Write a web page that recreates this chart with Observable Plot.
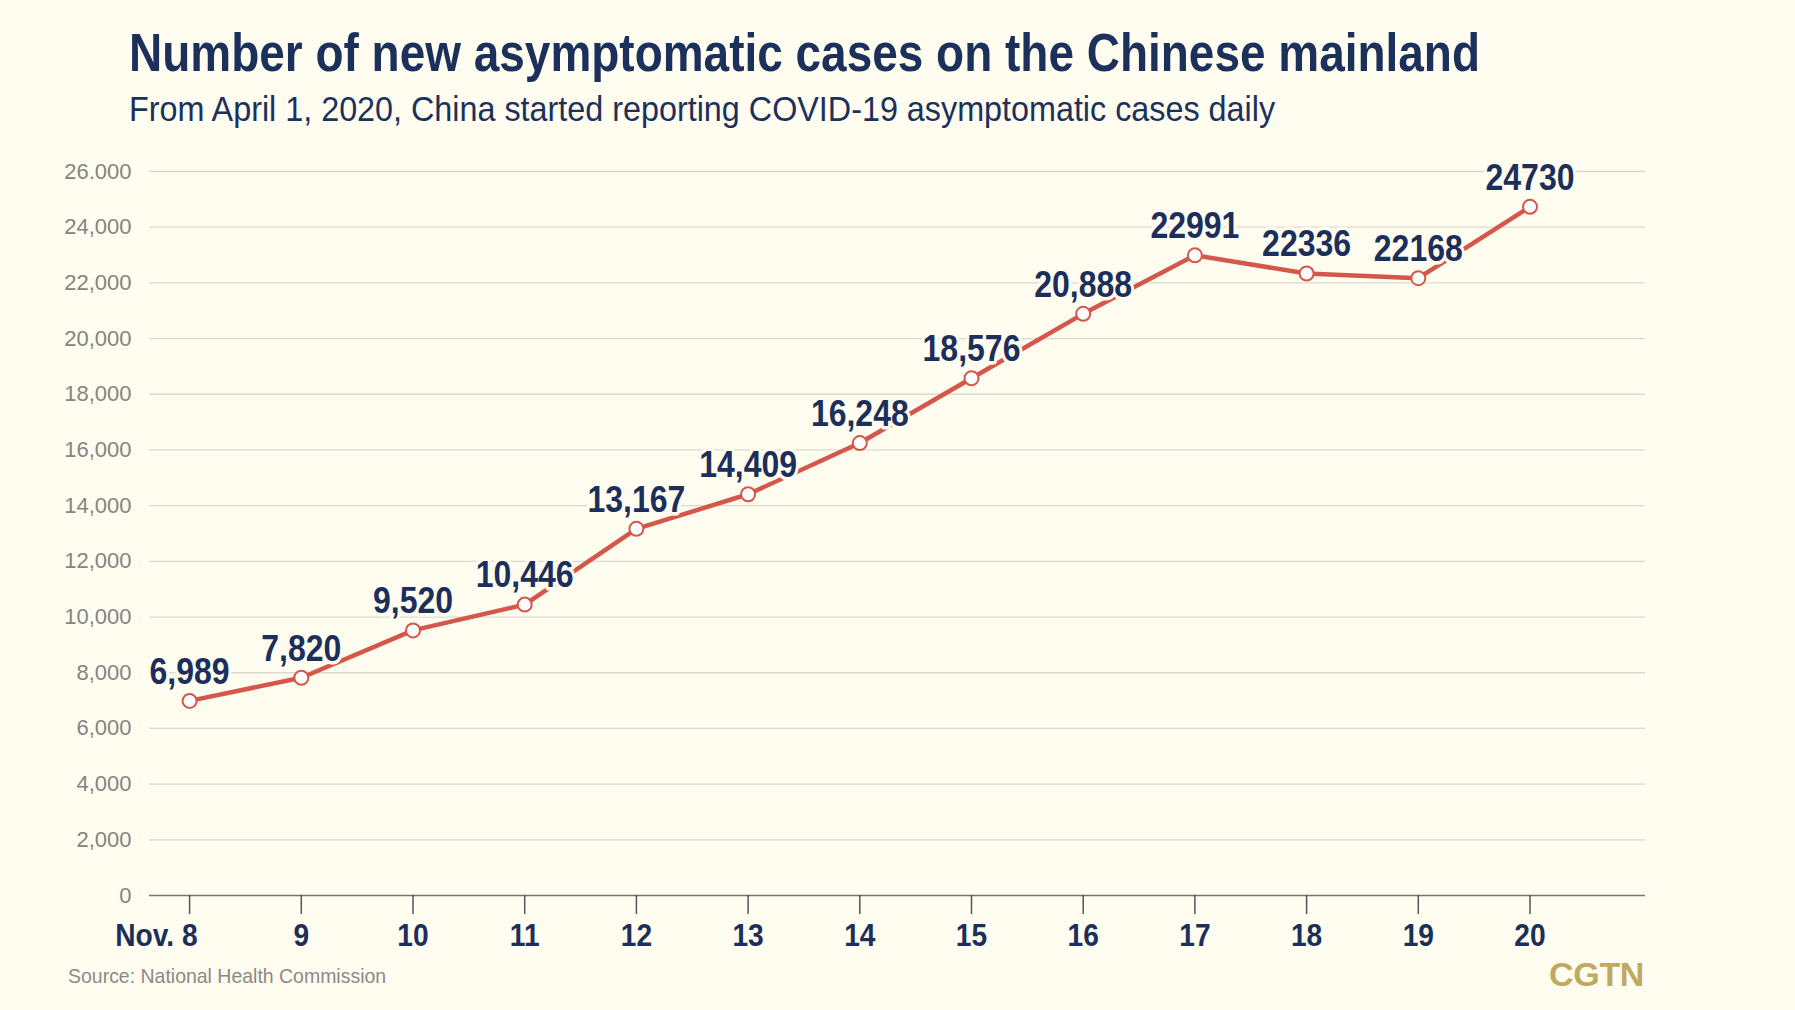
<!DOCTYPE html>
<html>
<head>
<meta charset="utf-8">
<script src="https://cdn.jsdelivr.net/npm/d3@7"></script>
<script src="https://cdn.jsdelivr.net/npm/@observablehq/plot@0.6"></script>
<style>
  html, body { margin: 0; padding: 0; background: #fffcf0; }
  #page { position: relative; width: 1795px; height: 1010px; background: #fffcf0; overflow: hidden; }
  .title { position: absolute; left: 129px; top: 22px; font-family: "Liberation Sans", Arial, sans-serif; font-weight: bold; font-size: 53px; color: #1b315c; white-space: nowrap; transform-origin: 0 50%; }
  .subtitle { position: absolute; left: 129px; top: 89px; font-family: "Liberation Sans", Arial, sans-serif; font-size: 35px; color: #1b315c; white-space: nowrap; transform-origin: 0 50%; }
  #chart { position: absolute; left: 0; top: 140px; }
  .source { position: absolute; left: 68px; top: 964px; font-family: "Liberation Sans", Arial, sans-serif; font-size: 21px; color: #8a8a88; white-space: nowrap; transform-origin: 0 50%; }
  .logo { position: absolute; left: 1549px; top: 955px; font-family: "Liberation Sans", Arial, sans-serif; font-weight: bold; font-size: 34px; color: #c0aa62; letter-spacing: -0.3px; }
</style>
</head>
<body>
<div id="page">
  <div class="title" data-w="1351">Number of new asymptomatic cases on the Chinese mainland</div>
  <div class="subtitle" data-w="1146">From April 1, 2020, China started reporting COVID-19 asymptomatic cases daily</div>
  <div id="chart"></div>
  <div class="source" data-w="318">Source: National Health Commission</div>
  <div class="logo">CGTN</div>
</div>
<script>
// Daily new asymptomatic cases, November 8–20
const days = [8, 9, 10, 11, 12, 13, 14, 15, 16, 17, 18, 19, 20];
const cases = [6989, 7820, 9520, 10446, 13167, 14409, 16248, 18576, 20888, 22991, 22336, 22168, 24730];
const caseLabels = ["6,989", "7,820", "9,520", "10,446", "13,167", "14,409", "16,248", "18,576", "20,888", "22991", "22336", "22168", "24730"];
const dayLabels = ["Nov. 8", "9", "10", "11", "12", "13", "14", "15", "16", "17", "18", "19", "20"];
const yTicks = [0, 2000, 4000, 6000, 8000, 10000, 12000, 14000, 16000, 18000, 20000, 22000, 24000, 26000];
const yTickLabels = ["0", "2,000", "4,000", "6,000", "8,000", "10,000", "12,000", "14,000", "16,000", "18,000", "20,000", "22,000", "24,000", "26.000"];

const rows = days.map((d, i) => ({day: d, cases: cases[i], label: caseLabels[i]}));
const dayRows = days.map((d, i) => ({day: d, label: dayLabels[i]}));
const tickRows = yTicks.map((v, i) => ({v, label: yTickLabels[i]}));

const navy = "#1c2f5b";
const red = "#d5574a";
const bg = "#fffcf0";
const font = "Liberation Sans, Arial, sans-serif";

const chart = Plot.plot({
  width: 1795,
  height: 820,
  marginLeft: 149,
  marginRight: 150,
  marginTop: 31,
  marginBottom: 65,
  style: {background: "transparent", fontFamily: font},
  x: {type: "linear", domain: [7.641, 21.034], axis: null},
  y: {domain: [0, 26000], axis: null},
  marks: [
    // horizontal gridlines
    Plot.ruleY(yTicks.slice(1), {stroke: "#dcdad0", strokeWidth: 1.3}),
    // baseline
    Plot.ruleY([0], {stroke: "#777", strokeWidth: 1.5}),
    // y tick labels
    Plot.text(tickRows, {
      y: "v", text: "label", frameAnchor: "left", textAnchor: "end", dx: -18,
      fill: "#86847f", fontSize: 22
    }),
    // x tick marks under the baseline
    Plot.axisX({ticks: days, tickSize: 19, tickFormat: () => "", label: null, stroke: "#555", strokeWidth: 1.5}),
    // x tick labels
    Plot.text(dayRows.slice(1), {
      x: "day", text: "label", frameAnchor: "bottom", lineAnchor: "middle", dy: 40,
      fill: navy, fontSize: 32, fontWeight: "bold"
    }),
    Plot.text(dayRows.slice(0, 1), {
      x: "day", text: "label", frameAnchor: "bottom", lineAnchor: "middle", dy: 40, textAnchor: "end", dx: 8,
      fill: navy, fontSize: 32, fontWeight: "bold"
    }),
    // case line
    Plot.line(rows, {x: "day", y: "cases", stroke: red, strokeWidth: 4.5, strokeLinejoin: "round"}),
    // value labels with background halo
    Plot.text(rows, {
      x: "day", y: "cases", text: "label", dy: -29,
      fill: navy, stroke: bg, strokeWidth: 7, fontSize: 37, fontWeight: "bold"
    }),
    // markers
    Plot.dot(rows, {x: "day", y: "cases", r: 7, fill: "#ffffff", stroke: red, strokeWidth: 2})
  ]
});
document.getElementById("chart").appendChild(chart);

// Condense the lettering horizontally (narrow display face look)
const squeeze = [1, 0.88, 0.88, 0.865];
d3.select(chart).selectAll('g[aria-label="text"]').each(function (_, k) {
  const s = squeeze[k] ?? 1;
  if (s === 1) return;
  d3.select(this).selectAll("text").each(function () {
    const t = this.getAttribute("transform") || "";
    this.setAttribute("transform", `${t} scale(${s},1)`);
  });
});
document.querySelectorAll("[data-w]").forEach(el => {
  const w = +el.dataset.w;
  el.style.transform = `scaleX(${w / el.offsetWidth})`;
});
</script>
</body>
</html>
